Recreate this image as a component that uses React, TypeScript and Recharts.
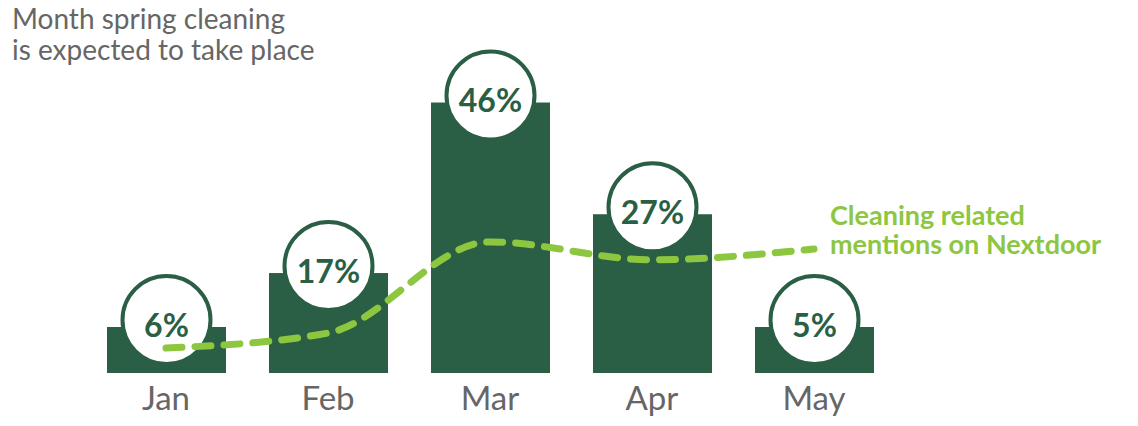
import React from 'react';
import { ComposedChart, Bar, Line, XAxis, YAxis, LabelList } from 'recharts';

const months = ['Jan', 'Feb', 'Mar', 'Apr', 'May'];
const springCleaning = [6, 17, 46, 27, 5];
// relative index of cleaning related mentions
const nextdoorMentions = [8.5, 13.6, 44.6, 38.5, 42.2];

const data = months.map((m, i) => ({ month: m, share: springCleaning[i], mentions: nextdoorMentions[i] }));

const DARK = '#2a5f45';
const LIGHT = '#8dc63f';

// bar + white bubble with the value, drawn as one shape so the line sits on top
const BubbleBar = (props: any) => {
    const { x, y, width, height, payload } = props;
    const cx = x + width / 2;
    const cy = y - 7;
    return (
        <g>
            <rect x={x} y={y} width={width} height={height} fill={DARK} />
            <circle cx={cx} cy={cy} r={44} fill="#fff" stroke={DARK} strokeWidth={4} />
            <text x={cx} y={cy + 4} textAnchor="middle" dominantBaseline="central" fill={DARK}
                fontSize={32} fontWeight={700} fontFamily="Lato">
                {payload.share}%
            </text>
        </g>
    );
};

const LineTag = (props: any) => {
    const { x, y, index } = props;
    if (index !== months.length - 1) return null;
    return (
        <g fill={LIGHT} fontSize={27} fontWeight={700} fontFamily="Lato">
            <text x={x + 16} y={y - 24}>Cleaning related</text>
            <text x={x + 16} y={y + 5}>mentions on Nextdoor</text>
        </g>
    );
};

export default function App() {
    return (
        <div style={{ position: 'absolute', left: 0, top: 0, width: 1138, height: 426, background: '#fff', fontFamily: 'Lato' }}>
            <ComposedChart width={1138} height={426} data={data}
                margin={{ top: 79, right: 243, bottom: 0, left: 85 }}>
                <XAxis dataKey="month" axisLine={false} tickLine={false} height={53} tickMargin={8}
                    tick={{ fill: '#666', fontSize: 33, fontFamily: 'Lato' }} interval={0} />
                <YAxis yAxisId="share" hide domain={[0, 50]} />
                <YAxis yAxisId="mentions" hide domain={[0, 100]} orientation="right" />
                <Bar yAxisId="share" dataKey="share" fill={DARK} barSize={119} minPointSize={46}
                    shape={BubbleBar} isAnimationActive={false} />
                <Line yAxisId="mentions" dataKey="mentions" type="monotone" stroke={LIGHT} strokeWidth={7}
                    strokeDasharray="16 13" strokeLinecap="round" dot={false} activeDot={false} isAnimationActive={false}>
                    <LabelList dataKey="mentions" content={LineTag} />
                </Line>
            </ComposedChart>
            <div style={{ position: 'absolute', left: 12, top: 3, fontSize: 28, lineHeight: '31px', color: '#666' }}>
                Month spring cleaning
                <br />
                is expected to take place
            </div>
        </div>
    );
}
